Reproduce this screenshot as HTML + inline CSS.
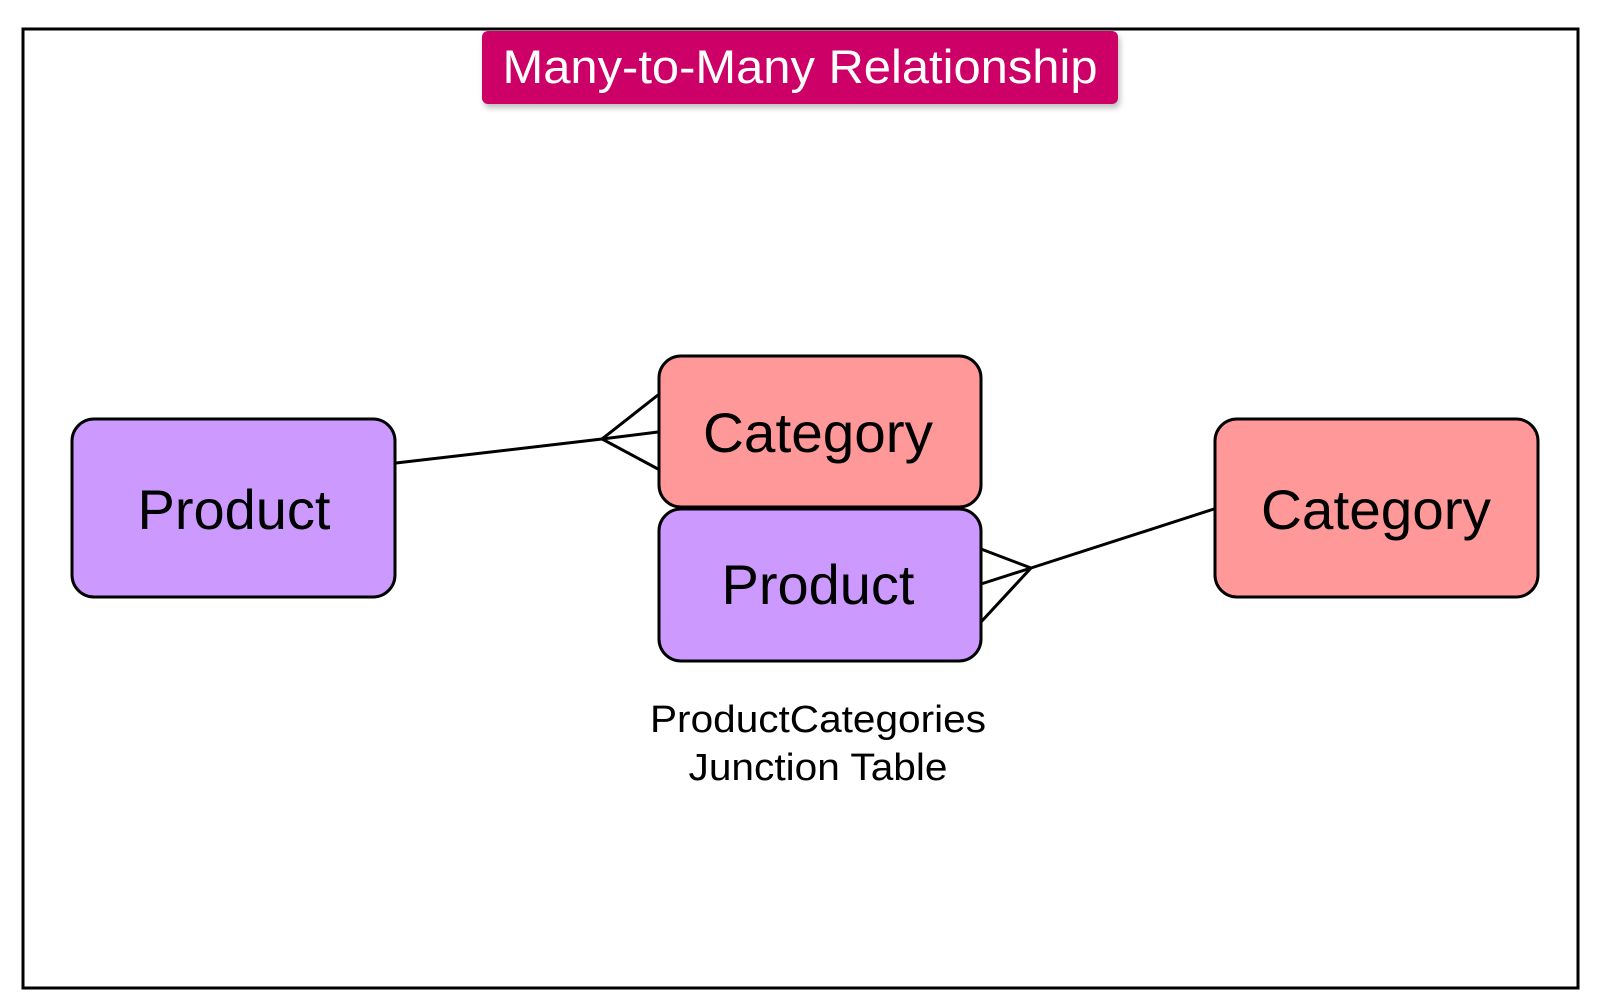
<!DOCTYPE html>
<html><head><meta charset="utf-8"><style>html,body{margin:0;padding:0;background:#fff}svg{display:block}</style></head>
<body>
<svg width="1600" height="1008" viewBox="0 0 1600 1008" xmlns="http://www.w3.org/2000/svg" font-family="Liberation Sans, Arial, sans-serif">
<defs><filter id="sh" x="-10%" y="-30%" width="120%" height="160%"><feDropShadow dx="2" dy="4" stdDeviation="3" flood-color="#000" flood-opacity="0.25"/></filter></defs>
<rect x="23" y="29" width="1555" height="959" fill="#fff" stroke="#000" stroke-width="3"/>
<rect x="482" y="31" width="636" height="73" rx="6" fill="#cc0066" filter="url(#sh)"/>
<text x="800" y="83" font-size="47" fill="#fff" text-anchor="middle" textLength="595" lengthAdjust="spacingAndGlyphs">Many-to-Many Relationship</text>
<g stroke="#000" stroke-width="3" fill="none">
<line x1="396" y1="463" x2="602" y2="439"/>
<polyline points="658,395 602,439 658,469"/>
<line x1="602" y1="439" x2="658" y2="432"/>
<line x1="1214" y1="509" x2="1031" y2="568"/>
<polyline points="981,549 1031,568 981,622"/>
<line x1="1031" y1="568" x2="981" y2="584"/>
</g>
<g stroke="#000" stroke-width="3">
<rect x="72" y="419" width="323" height="178" rx="22" fill="#cc99ff"/>
<rect x="659" y="356" width="322" height="151" rx="22" fill="#ff9999"/>
<rect x="659" y="509" width="322" height="152" rx="22" fill="#cc99ff"/>
<rect x="1215" y="419" width="323" height="178" rx="22" fill="#ff9999"/>
</g>
<g font-size="56" text-anchor="middle" fill="#000">
<text x="234" y="529">Product</text>
<text x="818" y="452" textLength="230" lengthAdjust="spacingAndGlyphs">Category</text>
<text x="818" y="604">Product</text>
<text x="1376" y="529" textLength="230" lengthAdjust="spacingAndGlyphs">Category</text>
</g>
<g font-size="38" text-anchor="middle" fill="#000">
<text x="818" y="732" textLength="336" lengthAdjust="spacingAndGlyphs">ProductCategories</text>
<text x="818" y="780" textLength="259" lengthAdjust="spacingAndGlyphs">Junction Table</text>
</g>
</svg>
</body></html>
